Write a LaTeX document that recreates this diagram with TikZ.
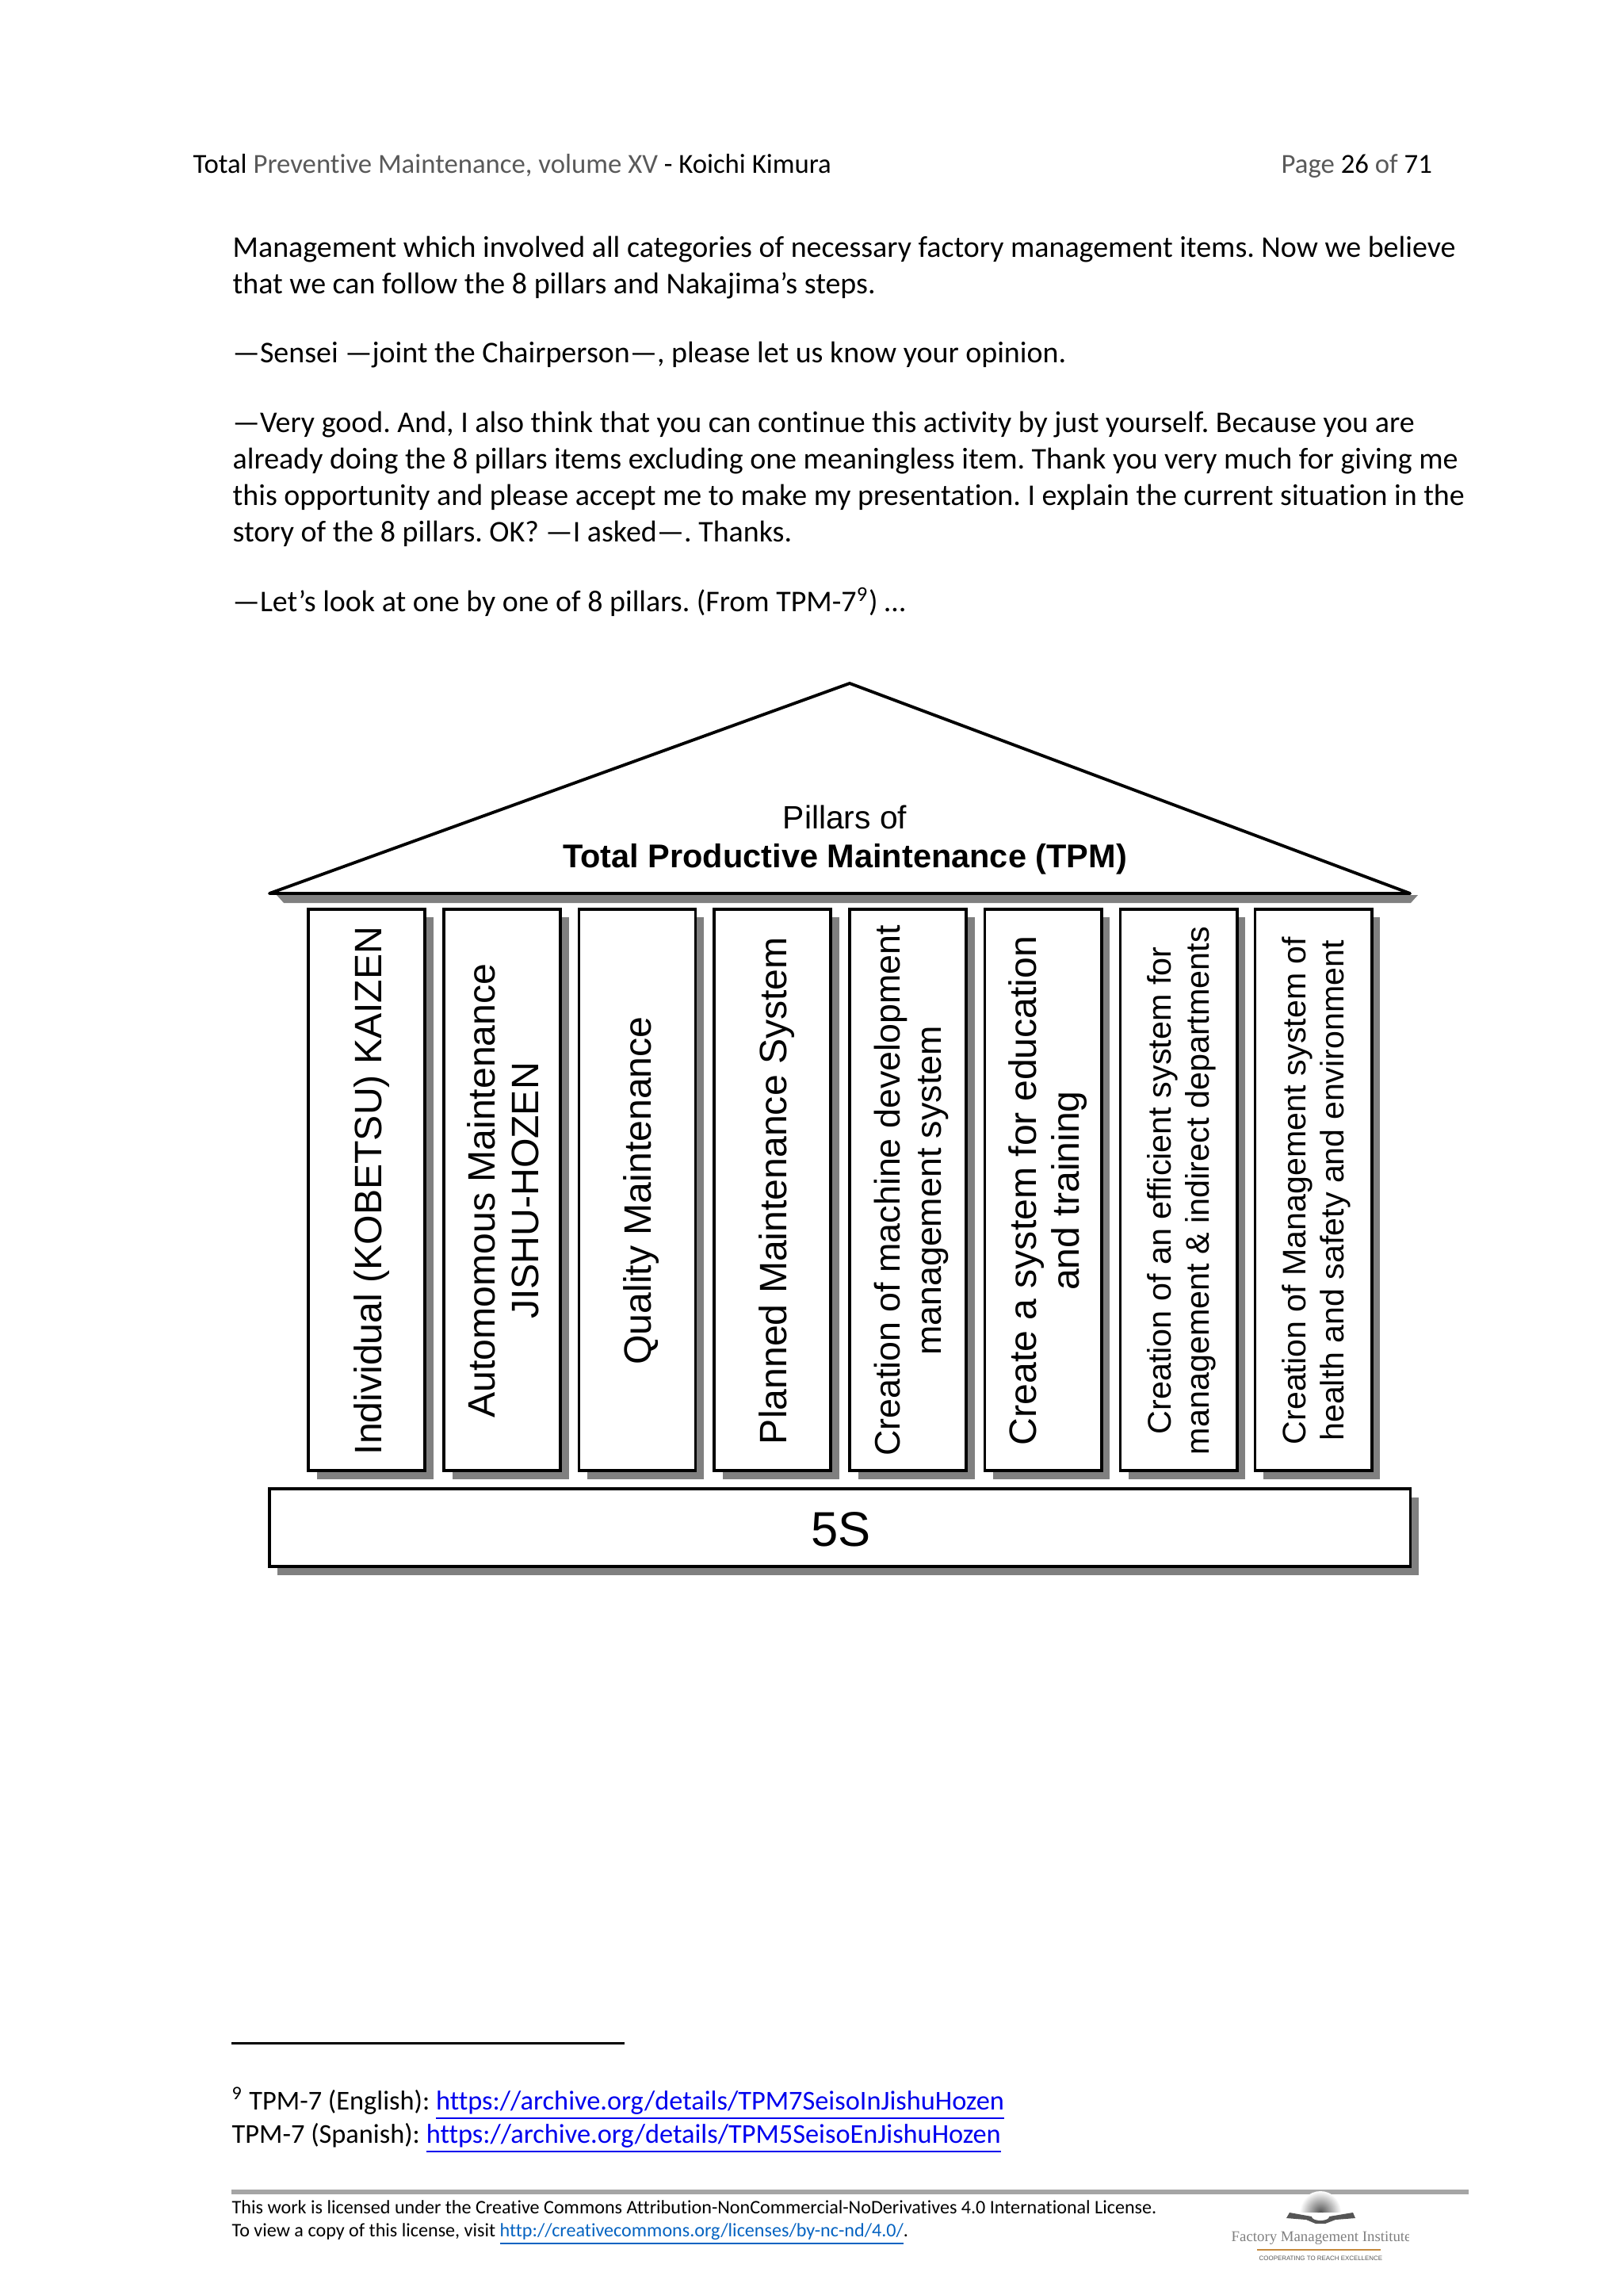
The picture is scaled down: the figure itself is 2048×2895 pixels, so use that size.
\documentclass[tikz,border=0pt]{standalone}
\usepackage{fontspec}
\setmainfont[Ligatures=NoCommon]{Carlito}
\newfontfamily\arialfont{Liberation Sans}
\newfontfamily\seriffont{Liberation Serif}
\usetikzlibrary{shadows}
\definecolor{shadowgray}{HTML}{808080}
\definecolor{headgray}{HTML}{595959}
\definecolor{rulegray}{HTML}{A5A5A5}
\definecolor{linkblue}{HTML}{0000EE}
\definecolor{licblue}{HTML}{0563C1}
\definecolor{logogray}{HTML}{555555}
\definecolor{logoorange}{HTML}{C58A3E}
\newcommand{\fsz}[2]{\fontsize{#1}{#2}\selectfont\frenchspacing}
\tikzset{
  line/.style={anchor=base west,inner sep=0,font=\fsz{10.79}{13}},
  note/.style={anchor=base west,inner sep=0,font=\fsz{9.77}{12}},
  lic/.style={anchor=base west,inner sep=0,font=\fsz{6.86}{8}},
  pillar/.style={draw,fill=white,line width=1.1pt,inner sep=0,minimum width=1.47cm,minimum height=7.08cm,
    general shadow={fill=shadowgray,draw=none,shadow xshift=3.1pt,shadow yshift=-3pt}},
  pillartxt/.style={rotate=90,align=center,inner sep=0,font=\arialfont}
}
\begin{document}
\begin{tikzpicture}[x=.01cm,y=-.01cm]
\useasboundingbox (0,0) rectangle (2048,2895);

\node[line,font=\fsz{9.88}{12}] (headl) at (243,219) {Total \textcolor{headgray}{Preventive Maintenance, volume XV} - Koichi Kimura};
\node[line,font=\fsz{9.88}{12}] (headr) at (1616,219) {\textcolor{headgray}{Page} 26 \textcolor{headgray}{of} 71};

\node[line] (b1) at (293,325) {Management which involved all categories of necessary factory management items. Now we believe};
\node[line] (b2) at (293,371) {that we can follow the 8 pillars and Nakajima’s steps.};
\node[line] (b3) at (293,458) {—Sensei —joint the Chairperson—, please let us know your opinion.};
\node[line] (b4) at (293,546) {—Very good. And, I also think that you can continue this activity by just yourself. Because you are};
\node[line] (b5) at (293,592) {already doing the 8 pillars items excluding one meaningless item. Thank you very much for giving me};
\node[line] (b6) at (293,638) {this opportunity and please accept me to make my presentation. I explain the current situation in the};
\node[line] (b7) at (293,684) {story of the 8 pillars. OK? —I asked—. Thanks.};
\node[line] (b8) at (293,772) {—Let’s look at one by one of 8 pillars. (From TPM-7\textsuperscript{9}) …};

\coordinate (apex) at (1072,862);
\coordinate (roofl) at (340,1127);
\coordinate (roofr) at (1779,1127);
\fill[shadowgray] (349,1129) -- (1789,1129) -- (1780,1139) -- (358,1139) -- cycle;
\draw[fill=white,line width=1.1pt,line join=round] (apex) -- (roofr) -- (roofl) -- cycle;
\node[inner sep=0,font=\arialfont\fsz{11.6}{14}] (pillarsof) at (1066,1031) {Pillars of};
\node[inner sep=0,font=\arialfont\bfseries\fsz{11.8}{14}] (tpm) at (1066,1084) {Total Productive Maintenance (TPM)};

\node[pillar] (p1) at (462.5,1501) {};
\node[pillar] (p2) at (633.5,1501) {};
\node[pillar] (p3) at (804,1501) {};
\node[pillar] (p4) at (974.5,1501) {};
\node[pillar] (p5) at (1145.5,1501) {};
\node[pillar] (p6) at (1316,1501) {};
\node[pillar] (p7) at (1487,1501) {};
\node[pillar] (p8) at (1657,1501) {};

\node[pillartxt,font=\arialfont\fsz{13.7}{16}] (t1) at (469,1502) {Individual (KOBETSU) KAIZEN};
\node[pillartxt,font=\arialfont\fsz{13.7}{15.7}] (t2) at (635,1502) {Automomous Maintenance\\JISHU-HOZEN};
\node[pillartxt,font=\arialfont\fsz{13.7}{16}] (t3) at (809,1502) {Quality Maintenance};
\node[pillartxt,font=\arialfont\fsz{13.7}{16}] (t4) at (980,1502) {Planned Maintenance System};
\node[pillartxt,font=\arialfont\fsz{12.74}{14.8}] (t5) at (1150,1502) {Creation of machine development\\management system};
\node[pillartxt,font=\arialfont\fsz{13.7}{15.6}] (t6) at (1322,1502) {Create a system for education\\and training};
\node[pillartxt,font=\arialfont\fsz{11.75}{13.6}] (t7) at (1491,1502) {Creation of an efficient system for\\management \& indirect departments};
\node[pillartxt,font=\arialfont\fsz{11.7}{13.5}] (t8) at (1661,1502) {Creation of Management system of\\health and safety and environment};

\node[pillar,minimum width=14.39cm,minimum height=.98cm] (base) at (1059.5,1927) {};
\node[inner sep=0,font=\arialfont\fsz{17.5}{20}] (fives) at (1061,1929) {5S};

\draw[line width=.85pt] (292,2577) -- (788,2577);
\node[note] (n1) at (292,2661) {\textsuperscript{9} TPM-7 (English): \textcolor{linkblue}{\underline{https://archive.org/details/TPM7SeisoInJishuHozen}}};
\node[note] (n2) at (292,2703) {TPM-7 (Spanish): \textcolor{linkblue}{\underline{https://archive.org/details/TPM5SeisoEnJishuHozen}}};

\draw[rulegray,line width=1.6pt] (292,2765) -- (1853,2765);
\node[lic] (l1) at (292,2792) {This work is licensed under the Creative Commons Attribution-NonCommercial-NoDerivatives 4.0 International License.};
\node[lic] (l2) at (292,2821) {To view a copy of this license, visit \textcolor{licblue}{\underline{http://creativecommons.org/licenses/by-nc-nd/4.0/}}.};

\begin{scope}
\clip (1620,2760) rectangle (1712,2790);
\shade[inner color=logogray,outer color=white] (1666,2790) circle (26);
\end{scope}
\fill[logogray] (1623,2798) -- (1627,2791) -- (1655,2796) -- (1666,2790) -- (1677,2796) -- (1707,2791) -- (1710,2798) -- (1685,2800) -- (1672,2805) -- (1660,2805) -- (1648,2800) -- cycle;
\fill[white] (1666,2796) ellipse (11 and 5);
\begin{scope}
\clip (1540,2800) rectangle (1777,2840);
\node[anchor=base west,inner sep=0,text=gray,font=\seriffont\fsz{5.35}{6}] (fmi) at (1553,2827) {Factory Management Institute};
\end{scope}
\draw[logoorange,line width=.8pt] (1586,2838) -- (1742,2838);
\node[inner sep=0,anchor=base west,text=logogray,font=\arialfont\fsz{2.25}{3}] (motto) at (1588,2851) {COOPERATING TO REACH EXCELLENCE};

\end{tikzpicture}
\end{document}
